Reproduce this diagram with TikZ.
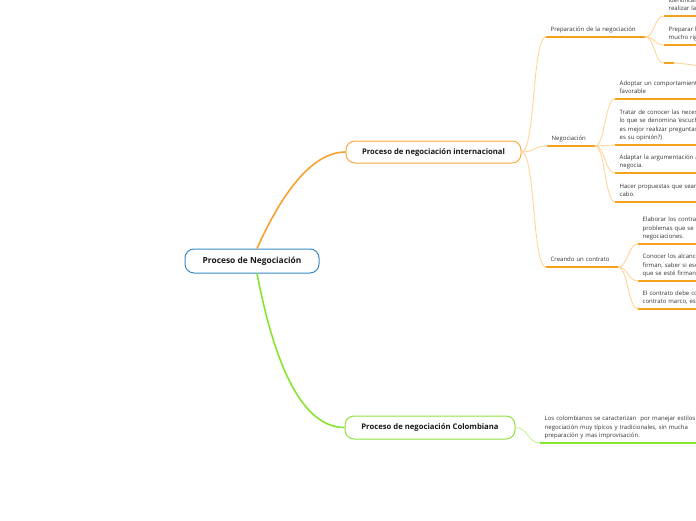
\documentclass[tikz,border=0pt]{standalone}
\usepackage{fontspec}
\setmainfont{Open Sans}
\definecolor{rootblue}{HTML}{3A89C4}
\definecolor{mainorange}{HTML}{F8A030}
\definecolor{intlorange}{HTML}{F8AA3C}
\definecolor{paleorange}{HTML}{FFD49B}
\definecolor{ulorange}{HTML}{F6A11E}
\definecolor{maingreen}{HTML}{86E52E}
\definecolor{colgreen}{HTML}{8DE23E}
\definecolor{palegreen}{HTML}{C6F29C}
\definecolor{txtgray}{HTML}{333333}
\begin{document}
\begin{tikzpicture}[x=1pt,y=-1pt,
  rootbox/.style={draw=rootblue, line width=1pt, rounded corners=9pt, fill=white,
    minimum width=134pt, minimum height=24pt, inner sep=0pt,
    font=\bfseries\fontsize{8.4}{10}\selectfont, text=black!90},
  mainbox/.style={draw=#1, line width=1pt, rounded corners=9pt, fill=white,
    inner sep=0pt, minimum height=22pt,
    font=\bfseries\fontsize{7.7}{9}\selectfont, text=black!90},
  leaf/.style={anchor=south west, inner xsep=4.5pt, inner ysep=2.5pt, align=left,
    text width=230pt, font=\fontsize{6}{8.5}\selectfont, text=txtgray,
    execute at begin node=\strut, execute at end node=\strut},
  uline/.style={draw=#1, line width=1.4pt},
  mainconn/.style={draw=#1, line width=1.6pt},
  paleconn/.style={draw=#1, line width=0.9pt}]
\useasboundingbox (0,0) rectangle (696,520);
\clip (0,0) rectangle (696,520);

% main nodes
\node[rootbox] (root) at (252,261) {Proceso de Negociación};
\node[mainbox=intlorange, minimum width=175pt] (intl) at (433.5,152) {Proceso de negociación internacional};
\node[mainbox=colgreen, minimum width=170pt, minimum height=23pt] (col) at (430,427.5) {Proceso de negociación Colombiana};

% leaves
\node[leaf] (prep) at (546,37) {Preparación de la negociación};
\node[leaf] (p1) at (664,16) {identificar\\realizar la};
\node[leaf] (p2) at (664,45) {Preparar la\\mucho rigor};
\node[leaf] (p3) at (664,63) {};
\coordinate (p3out) at (712,67);

\node[leaf] (nego) at (547,146) {Negociación};
\node[leaf] (n1) at (615,99) {Adoptar un comportamiento\\favorable};
\node[leaf] (n2) at (615,145) {Tratar de conocer las necesidades\\lo que se denomina 'escuchar\\es mejor realizar preguntas\\es su opinión?)};
\node[leaf] (n3) at (615,173) {Adaptar la argumentación a\\negocia.};
\node[leaf] (n4) at (615,202) {Hacer propuestas que sean\\cabo.};

\node[leaf] (crea) at (546,267) {Creando un contrato};
\node[leaf] (c1) at (638,244) {Elaborar los contratos\\problemas que se pueden\\negociaciones.};
\node[leaf] (c2) at (638,281) {Conocer los alcances\\firman, saber si ese\\que se esté firmando};
\node[leaf] (c3) at (638,309) {El contrato debe contener\\contrato marco, escrito};

\node[leaf] (colt) at (540,443) {Los colombianos se caracterizan\ \ por manejar estilos de\\negociación muy típicos y tradicionales, sin mucha\\preparación y mas improvisación.};

% underlines
\draw[uline=ulorange] (prep.south west) -- ++(99,0) coordinate (prep-e);
\draw[uline=ulorange] (p1.south west) -- ++(60,0);
\draw[uline=ulorange] (p2.south west) -- ++(60,0);
\draw[uline=ulorange] (p3.south west) -- ++(10,0) coordinate (p3-e);
\draw[uline=ulorange] (nego.south west) -- ++(48,0) coordinate (nego-e);
\draw[uline=ulorange] (n1.south west) -- ++(90,0);
\draw[uline=ulorange] (n2.south west) -- ++(90,0);
\draw[uline=ulorange] (n3.south west) -- ++(90,0);
\draw[uline=ulorange] (n4.south west) -- ++(90,0);
\draw[uline=ulorange] (crea.south west) -- ++(72,0) coordinate (crea-e);
\draw[uline=ulorange] (c1.south west) -- ++(70,0);
\draw[uline=ulorange] (c2.south west) -- ++(70,0);
\draw[uline=ulorange] (c3.south west) -- ++(70,0);
\draw[uline=maingreen] (colt.south west) -- ++(170,0);

% main connectors
\draw[mainconn=mainorange] ([xshift=5pt]root.north) .. controls +(22,-49) and +(-36,0) .. (intl.west);
\draw[mainconn=maingreen] ([xshift=5pt]root.south) .. controls +(13,67) and +(-50,0) .. (col.west);

% branch connectors
\foreach \t in {prep,nego,crea}
  \draw[paleconn=paleorange] (intl.east) .. controls +(14,0) and +(-14,0) .. (\t.south west);
\foreach \t in {p1,p2,p3}
  \draw[paleconn=paleorange] (prep-e) .. controls +(10,0) and +(-10,0) .. (\t.south west);
\draw[paleconn=paleorange] (p3-e) .. controls +(10,0) and +(-10,0) .. (p3out);
\foreach \t in {n1,n2,n3,n4}
  \draw[paleconn=paleorange] (nego-e) .. controls +(10,0) and +(-10,0) .. (\t.south west);
\foreach \t in {c1,c2,c3}
  \draw[paleconn=paleorange] (crea-e) .. controls +(10,0) and +(-10,0) .. (\t.south west);
\draw[paleconn=palegreen] (col.east) .. controls +(12,0) and +(-12,0) .. (colt.south west);
\end{tikzpicture}
\end{document}
